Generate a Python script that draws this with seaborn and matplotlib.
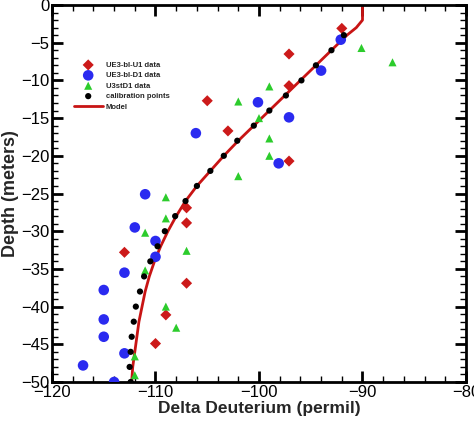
import matplotlib
matplotlib.use("Agg")
import matplotlib.pyplot as plt
import seaborn as sns
import pandas as pd
from matplotlib.ticker import MultipleLocator

# UE3-bl-U1 data (red diamonds)
u1_delta = [-92.0, -97.1, -97.1, -105.0, -103.0, -97.1, -107.0, -107.0, -113.0, -107.0, -109.0, -110.0]
u1_depth = [-3.1, -6.5, -10.7, -12.7, -16.7, -20.7, -26.9, -28.9, -32.8, -36.9, -41.1, -44.9]

# UE3-bl-D1 data (blue circles)
d1_delta = [-92.1, -94.0, -100.1, -97.1, -106.1, -98.1, -111.0, -112.0, -110.0, -110.0,
            -113.0, -115.0, -115.0, -115.0, -113.0, -117.0, -114.0]
d1_depth = [-4.6, -8.7, -12.9, -14.9, -17.0, -21.0, -25.1, -29.5, -31.3, -33.4,
            -35.5, -37.8, -41.7, -44.0, -46.2, -47.8, -50.0]

# U3stD1 data (green triangles)
st_delta = [-90.1, -87.1, -99.0, -102.0, -100.0, -99.0, -99.0, -102.0, -109.0, -109.0,
            -111.0, -107.0, -111.0, -109.0, -108.0, -112.0, -112.0]
st_depth = [-5.7, -7.6, -10.8, -12.8, -15.0, -17.7, -20.0, -22.7, -25.5, -28.3,
            -30.2, -32.6, -35.2, -40.0, -42.8, -46.6, -49.1]

# calibration points (black dots)
cal_depth = [-4, -6, -8, -10, -12, -14, -16, -18, -20, -22, -24, -26,
             -28, -30, -32, -34, -36, -38, -40, -42, -44, -46, -48, -50]
cal_delta = [-91.8, -93.0, -94.5, -95.9, -97.4, -99.0, -100.5, -102.1, -103.4, -104.7, -106.0, -107.1,
             -108.1, -109.1, -109.8, -110.5, -111.1, -111.5, -111.9, -112.1, -112.3, -112.4, -112.5, -112.4]

# Model curve
model_delta = [-90.0, -90.0, -90.6, -91.5, -93.0, -94.5, -96.0, -97.5, -99.0, -100.5, -102.0,
               -103.4, -104.7, -106.0, -107.1, -108.0, -108.8, -109.5, -110.1, -110.6, -111.0,
               -111.3, -111.6, -111.8, -112.0, -112.2, -112.3]
model_depth = [0.0, -2.0, -3.0, -4.0, -6.0, -8.0, -10.0, -12.0, -14.0, -16.0, -18.0,
               -20.0, -22.0, -24.0, -26.0, -28.0, -30.0, -32.0, -34.0, -36.0, -38.0,
               -40.0, -42.0, -44.0, -46.0, -48.0, -50.0]

sns.set_theme(style="ticks")
plt.rcParams['font.family'] = ['Liberation Sans', 'DejaVu Sans']

fig = plt.figure(figsize=(4.74, 4.22), dpi=100)
ax = fig.add_axes([52/474, 1 - 382/422, (466 - 52)/474, (382 - 5)/422])

model_df = pd.DataFrame({"delta": model_delta, "depth": model_depth})
sns.lineplot(data=model_df, x="delta", y="depth", sort=False, estimator=None,
             color="#c81414", lw=2.0, ax=ax, label="Model", zorder=2)

sns.scatterplot(x=u1_delta, y=u1_depth, marker="D", s=32, color="#cc1a1a",
                edgecolor="none", ax=ax, label="UE3-bl-U1 data", zorder=3)
sns.scatterplot(x=d1_delta, y=d1_depth, marker="o", s=58, color="#2a2af0",
                edgecolor="none", ax=ax, label="UE3-bl-D1 data", zorder=3)
sns.scatterplot(x=st_delta, y=st_depth, marker="^", s=34, color="#2ccc2c",
                edgecolor="none", ax=ax, label="U3stD1 data", zorder=3)
sns.scatterplot(x=cal_delta, y=cal_depth, marker="o", s=20, color="black",
                edgecolor="none", ax=ax, label="calibration points", zorder=4)

ax.set_xlim(-120, -80)
ax.set_ylim(-50, 0)
ax.xaxis.set_major_locator(MultipleLocator(10))
ax.xaxis.set_minor_locator(MultipleLocator(2))
ax.yaxis.set_major_locator(MultipleLocator(5))
ax.yaxis.set_minor_locator(MultipleLocator(1))
ax.tick_params(which="both", direction="in", top=True, right=True, colors="black")
ax.tick_params(which="major", length=8, width=2, labelsize=12, pad=2)
ax.tick_params(which="minor", length=4, width=1)
for sp in ax.spines.values():
    sp.set_linewidth(2)
    sp.set_color("black")

ax.set_xlabel("Delta Deuterium (permil)", fontsize=12.5, fontweight="bold", labelpad=1)
ax.set_ylabel("Depth (meters)", fontsize=13, fontweight="bold")
ax.yaxis.set_label_coords(-0.08, 0.5)

handles, labels = ax.get_legend_handles_labels()
order = ["UE3-bl-U1 data", "UE3-bl-D1 data", "U3stD1 data", "calibration points", "Model"]
hmap = dict(zip(labels, handles))
leg = ax.legend([hmap[k] for k in order], order, loc="upper left",
                bbox_to_anchor=(0.045, 0.858), frameon=False,
                handlelength=3.8, labelspacing=0.4, handletextpad=0.4,
                borderaxespad=0.0,
                prop={"weight": "bold", "size": 5.5})

fig.savefig("out.png", dpi=100)
